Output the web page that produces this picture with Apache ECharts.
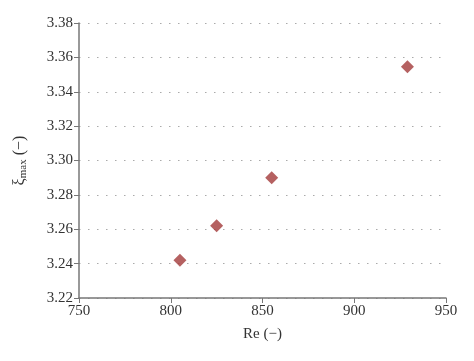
<!DOCTYPE html>
<html><head><meta charset="utf-8">
<script src="https://cdn.jsdelivr.net/npm/echarts@6/dist/echarts.min.js"></script>
<style>html,body{margin:0;padding:0;background:#fff}#c{width:474px;height:361px}</style>
</head><body><div id="c"></div>
<script>
const reValues = [805, 825, 855, 929];
const xiMax = [3.242, 3.262, 3.290, 3.3545];
const xTicks = [750, 800, 850, 900, 950];
const yTicks = [3.22, 3.24, 3.26, 3.28, 3.30, 3.32, 3.34, 3.36, 3.38];

const chart = echarts.init(document.getElementById('c'));
const font = '"Liberation Serif", "DejaVu Serif", serif';
chart.setOption({
  animation: false,
  grid: {left: 79, right: 28, top: 23, bottom: 63},
  xAxis: {
    type: 'value', min: xTicks[0], max: xTicks[xTicks.length-1], interval: 50,
    name: 'Re (−)', nameLocation: 'middle', nameGap: 29,
    nameTextStyle: {fontFamily: font, fontSize: 15, color: '#333'},
    axisLine: {lineStyle: {color: '#777', width: 1.5}},
    axisTick: {show: true, length: 5, lineStyle: {color: '#777'}},
    axisLabel: {fontFamily: font, fontSize: 15, color: '#333', margin: 6},
    splitLine: {show: false}
  },
  yAxis: {
    type: 'value', min: yTicks[0], max: yTicks[yTicks.length-1], interval: 0.02,
    name: '{a|ξ}{b|max}{a| (−)}', nameLocation: 'middle', nameGap: 50, nameRotate: 90,
    nameTextStyle: {rich: {
      a: {fontFamily: font, fontSize: 16, color: '#333'},
      b: {fontFamily: font, fontSize: 11, color: '#333', verticalAlign: 'bottom', padding: [7,0,0,0]}
    }},
    axisLine: {show: true, lineStyle: {color: '#777', width: 1.5}},
    axisTick: {show: true, length: 5, lineStyle: {color: '#777'}},
    axisLabel: {fontFamily: font, fontSize: 15, color: '#333', margin: 6,
      formatter: v => v.toFixed(2)},
    splitLine: {show: true, lineStyle: {color: '#aaa', type: [1.5, 7.5], width: 1.2}}
  },
  series: [{
    type: 'scatter',
    data: reValues.map((x, i) => [x, xiMax[i]]),
    symbol: 'diamond', symbolSize: [13, 13],
    itemStyle: {color: '#a23a3a'}
  }]
});
</script></body></html>
